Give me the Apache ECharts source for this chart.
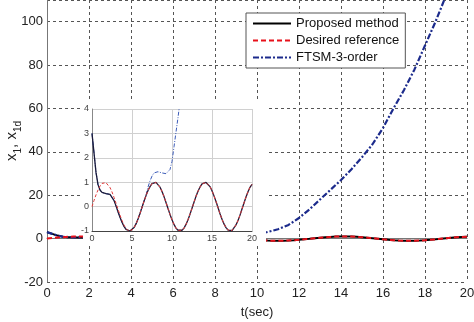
<!DOCTYPE html>
<html>
<head>
<meta charset="utf-8">
<script src="https://cdn.jsdelivr.net/npm/echarts@6/dist/echarts.min.js"></script>
<style>
  html, body { margin: 0; padding: 0; background: #fff; }
  #chart { width: 474px; height: 322px; }
</style>
</head>
<body>
<div id="chart"></div>
<script>
// Sampling grid for the tracking signals (seconds)
const step = 0.25;
const sampleCount = 81;

// Desired reference x_1d
const desired = [
  0.00, 0.25, 0.48, 0.68, 0.84, 0.95, 1.00, 0.98, 0.91, 0.78,
  0.60, 0.38, 0.14, -0.11, -0.35, -0.57, -0.76, -0.89, -0.98, -1.00,
  -0.96, -0.86, -0.71, -0.51, -0.28, -0.03, 0.22, 0.45, 0.66, 0.82,
  0.94, 0.99, 0.99, 0.92, 0.80, 0.62, 0.41, 0.17, -0.08, -0.32,
  -0.54, -0.73, -0.88, -0.97, -1.00, -0.97, -0.88, -0.73, -0.54, -0.31,
  -0.07, 0.18, 0.42, 0.63, 0.80, 0.93, 0.99, 0.99, 0.93, 0.82,
  0.65, 0.44, 0.21, -0.04, -0.29, -0.52, -0.71, -0.86, -0.96, -1.00,
  -0.98, -0.90, -0.75, -0.57, -0.35, -0.10, 0.15, 0.39, 0.61, 0.79,
  0.91
];

// Proposed method x_1
const proposed = [
  3.00, 2.20, 1.40, 0.90, 0.68, 0.58, 0.55, 0.53, 0.52, 0.50,
  0.42, 0.25, 0.03, -0.21, -0.44, -0.64, -0.81, -0.93, -0.99, -1.00,
  -0.96, -0.86, -0.71, -0.51, -0.28, -0.03, 0.22, 0.45, 0.66, 0.82,
  0.94, 0.99, 0.99, 0.92, 0.80, 0.62, 0.41, 0.17, -0.08, -0.32,
  -0.54, -0.73, -0.88, -0.97, -1.00, -0.97, -0.88, -0.73, -0.54, -0.31,
  -0.07, 0.18, 0.42, 0.63, 0.80, 0.93, 0.99, 0.99, 0.93, 0.82,
  0.65, 0.44, 0.21, -0.04, -0.29, -0.52, -0.71, -0.86, -0.96, -1.00,
  -0.98, -0.90, -0.75, -0.57, -0.35, -0.10, 0.15, 0.39, 0.61, 0.79,
  0.91
];

// FTSM-3-order response (diverges after ~7 s)
const ftsmTime = [
  0, 0.25, 0.5, 0.75, 1, 1.25, 1.5, 1.75, 2, 2.25,
  2.5, 2.75, 3, 3.25, 3.5, 3.75, 4, 4.25, 4.5, 4.75,
  5, 5.25, 5.5, 5.75, 6, 6.25, 6.5, 6.75, 7, 7.25,
  7.5, 7.75, 8, 8.25, 8.5, 8.75, 9, 9.25, 9.5, 9.75,
  10, 10.25, 10.5, 10.75, 11, 11.5, 12, 12.5, 13, 13.5,
  14, 14.5, 15, 15.5, 16, 16.5, 17, 17.5, 18, 18.5, 19
];
const ftsm = [
  3.00, 2.20, 1.40, 0.90, 0.68, 0.58, 0.55, 0.53, 0.52, 0.50,
  0.42, 0.25, 0.03, -0.21, -0.44, -0.64, -0.81, -0.93, -0.99, -1.00,
  -0.96, -0.86, -0.71, -0.51, -0.28, -0.03, 0.22, 0.46, 0.80, 1.05,
  1.25, 1.38, 1.42, 1.43, 1.41, 1.38, 1.36, 1.35, 1.37, 1.52,
  1.85, 2.45, 3.05, 3.65, 4.30, 6.30, 9.50, 13.5, 18.0, 22.5,
  27.0, 32.0, 37.5, 43.5, 51.0, 60.0, 68.5, 78.0, 89.0, 100.0, 112.0
];

// Axis ticks
const mainXTicks = { min: 0, max: 20, interval: 2 };
const mainYTicks = { min: -20, max: 110, interval: 20 };
const insetXTicks = { min: 0, max: 20, interval: 5 };
const insetYTicks = { min: -1, max: 4, interval: 1 };

const seriesNames = ['Proposed method', 'Desired reference', 'FTSM-3-order'];

function pairs(times, values) {
  return values.map((v, i) => [times[i], v]);
}
const timeGrid = [];
for (let i = 0; i < sampleCount; i++) timeGrid.push(+(i * step).toFixed(2));

const proposedData = pairs(timeGrid, proposed);
const desiredData = pairs(timeGrid, desired);
const ftsmData = pairs(ftsmTime, ftsm);

const FONT = 'Liberation Sans, Arial, sans-serif';
const dashGrid = { color: '#555', width: 1, type: [3, 3] };

const chart = echarts.init(document.getElementById('chart'), null, { renderer: 'canvas' });

chart.setOption({
  animation: false,
  backgroundColor: '#fff',
  textStyle: { fontFamily: FONT },
  grid: [
    { left: 47, right: 7, top: 0, bottom: 40, containLabel: false, outerBoundsMode: 'none' },
    { left: 92, right: 222, top: 109, bottom: 91, containLabel: false, outerBoundsMode: 'none' }
  ],
  graphic: [{
    type: 'rect',
    z: 10,
    shape: { x: 83, y: 101, width: 183, height: 145 },
    style: { fill: '#fff' },
    silent: true
  }],
  legend: {
    data: seriesNames,
    left: 246,
    top: 13,
    orient: 'vertical',
    padding: [4, 6, 4, 6],
    itemGap: 4,
    itemWidth: 38,
    itemHeight: 14,
    backgroundColor: '#fff',
    borderColor: '#555',
    borderWidth: 1,
    borderRadius: 0,
    z: 20,
    itemStyle: { opacity: 0 },
    textStyle: { fontSize: 13, color: '#111', fontFamily: FONT }
  },
  xAxis: [
    {
      type: 'value', gridIndex: 0,
      min: mainXTicks.min, max: mainXTicks.max, interval: mainXTicks.interval,
      name: 't(sec)', nameLocation: 'middle', nameGap: 24, nameMoveOverlap: false,
      nameTextStyle: { fontSize: 13, color: '#222', fontFamily: FONT },
      axisLine: { lineStyle: { color: '#777', width: 1 } },
      axisTick: { show: false },
      axisLabel: { fontSize: 13, color: '#222', margin: 5, fontFamily: FONT },
      splitLine: { show: true, lineStyle: dashGrid }
    },
    {
      type: 'value', gridIndex: 1, z: 15,
      min: insetXTicks.min, max: insetXTicks.max, interval: insetXTicks.interval,
      axisLine: { onZero: false, lineStyle: { color: '#444', width: 1 } },
      axisTick: { show: false },
      axisLabel: { fontSize: 9, color: '#444', margin: 3, fontFamily: FONT },
      splitLine: { show: true, lineStyle: { color: '#d0d0d0', width: 1 } }
    }
  ],
  yAxis: [
    {
      type: 'value', gridIndex: 0,
      min: mainYTicks.min, max: mainYTicks.max, interval: mainYTicks.interval,
      name: '{v|x}{s|1}{v|, x}{s|1d}', nameLocation: 'middle', nameGap: 28, nameMoveOverlap: false,
      nameTextStyle: {
        rich: {
          v: { fontSize: 15, color: '#222', fontFamily: FONT, lineHeight: 18, verticalAlign: 'bottom' },
          s: { fontSize: 10, color: '#222', fontFamily: FONT, lineHeight: 12, verticalAlign: 'bottom', padding: [0, 0, -4, 0] }
        }
      },
      axisLine: { show: true, lineStyle: { color: '#777', width: 1 } },
      axisTick: { show: false },
      axisLabel: {
        fontSize: 13, color: '#222', margin: 4, fontFamily: FONT,
        formatter: v => (v > 100 ? '' : String(v))
      },
      splitLine: { show: true, lineStyle: dashGrid }
    },
    {
      type: 'value', gridIndex: 1, z: 15,
      min: insetYTicks.min, max: insetYTicks.max, interval: insetYTicks.interval,
      axisLine: { show: true, onZero: false, lineStyle: { color: '#888', width: 1 } },
      axisTick: { show: false },
      axisLabel: { fontSize: 9, color: '#444', margin: 3, fontFamily: FONT },
      splitLine: { show: true, lineStyle: { color: '#d0d0d0', width: 1 } }
    }
  ],
  series: [
    {
      name: 'Proposed method', type: 'line', xAxisIndex: 0, yAxisIndex: 0,
      data: proposedData, symbol: 'none', z: 3,
      lineStyle: { color: '#000', width: 2 }, itemStyle: { color: '#000' }
    },
    {
      name: 'Desired reference', type: 'line', xAxisIndex: 0, yAxisIndex: 0,
      data: desiredData, symbol: 'none', z: 4,
      lineStyle: { color: '#e8101a', width: 2, type: [5, 3] }, itemStyle: { color: '#e8101a' }
    },
    {
      name: 'FTSM-3-order', type: 'line', xAxisIndex: 0, yAxisIndex: 0,
      data: ftsmData, symbol: 'none', z: 3,
      lineStyle: { color: '#1c2b8c', width: 2.2, type: [6, 2, 2, 2] }, itemStyle: { color: '#1c2b8c' }
    },
    {
      name: 'inset-proposed', type: 'line', xAxisIndex: 1, yAxisIndex: 1,
      data: proposedData, symbol: 'none', z: 30,
      lineStyle: { color: '#1a1a3a', width: 1.3 }
    },
    {
      name: 'inset-desired', type: 'line', xAxisIndex: 1, yAxisIndex: 1,
      data: desiredData, symbol: 'none', z: 31,
      lineStyle: { color: '#e03a3a', width: 1, type: [3, 2] }
    },
    {
      name: 'inset-ftsm', type: 'line', xAxisIndex: 1, yAxisIndex: 1,
      data: ftsmData, symbol: 'none', z: 29,
      lineStyle: { color: '#3b5bb8', width: 1, type: [4, 1.5, 1, 1.5] }
    }
  ]
});
</script>
</body>
</html>
